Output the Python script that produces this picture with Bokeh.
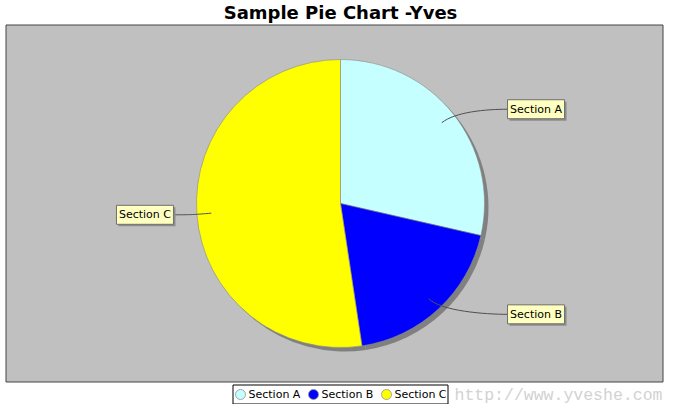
import numpy as np
from bokeh.plotting import figure
from bokeh.models import Range1d
from bokeh.embed import file_html
from bokeh.resources import INLINE
from bokeh.core.properties import value

# ---- data ----
categories = ["Section A", "Section B", "Section C"]
values = [30, 20, 55]
colors = ["#C6FFFF", "#0000FF", "#FFFF00"]
title_text = "Sample Pie Chart -Yves"
watermark_text = "http://www.yveshe.com"

W, H = 664, 404
p = figure(width=W, height=H, x_range=Range1d(0, W), y_range=Range1d(0, H),
           output_backend="svg", toolbar_location=None, min_border=0,
           x_axis_location=None, y_axis_location=None)
p.grid.visible = False
p.outline_line_color = None
p.background_fill_color = "white"
p.border_fill_color = "white"


def Y(y):
    return H - np.asarray(y, dtype=float)


FONT = value("DejaVu Sans")

# plot area
p.quad(left=5.5, right=662.5, top=Y(24.5), bottom=Y(381.5),
       fill_color="#C0C0C0", line_color="#444444", line_width=1)

# title
p.text(x=[340], y=Y([12]), text=[title_text], text_font=FONT,
       text_font_style="bold", text_font_size="18px", text_align="center",
       text_baseline="middle", text_color="black")

# pie geometry
cx, cy, R = 340.0, float(Y(203)), 144.0
vals = np.array(values, dtype=float)
ang = vals / vals.sum() * 2 * np.pi
ends = np.pi / 2 - np.cumsum(ang)
starts = ends + ang
mid = (starts + ends) / 2

# shadow
p.wedge(x=cx + 4, y=cy - 4, radius=R, start_angle=ends, end_angle=starts,
        direction="anticlock", fill_color="#808080", line_color=None)
# slices
p.wedge(x=cx, y=cy, radius=R, start_angle=ends, end_angle=starts,
        direction="anticlock", fill_color=colors, line_color="#8A8A8A",
        line_width=0.6)

# labels
side = np.where(np.cos(mid) >= 0, 1.0, -1.0)
gap = 1.16 * R
lab_y = cy + 1.05 * R * np.sin(mid)
anchor_x = cx + side * gap
x0 = cx + 0.9 * R * np.cos(mid)
y0 = cy + 0.9 * R * np.sin(mid)
c0x = cx + 1.02 * R * np.cos(mid)
c0y = cy + 1.02 * R * np.sin(mid)
c1x = anchor_x - side * 22
p.bezier(x0=x0, y0=y0, x1=anchor_x, y1=lab_y, cx0=c0x, cy0=c0y,
         cx1=c1x, cy1=lab_y, line_color="#505050", line_width=1)

bw, bh = 57.0, 19.0
left = np.where(side > 0, anchor_x, anchor_x - bw)
right = left + bw
p.quad(left=left + 2, right=right + 2, top=lab_y + bh / 2 - 2,
       bottom=lab_y - bh / 2 - 2, fill_color="#8C8C8C", line_color=None)
p.quad(left=left, right=right, top=lab_y + bh / 2, bottom=lab_y - bh / 2,
       fill_color="#FFFFC0", line_color="#6E6E6E", line_width=1)
p.text(x=(left + right) / 2, y=lab_y, text=categories,
       text_font=FONT, text_font_size="11px",
       text_align="center", text_baseline="middle", text_color="black")

# legend
lg_left, lg_right, lg_top, lg_bot = 232.5, 447.5, 384.5, 403.5
p.quad(left=lg_left, right=lg_right, top=Y(lg_top), bottom=Y(lg_bot),
       fill_color="white", line_color="black", line_width=1)
idx = np.arange(len(categories))
mx = 240.0 + 73.0 * idx
my = Y(np.full(len(categories), 394.0))
p.scatter(x=mx, y=my, size=10, marker="circle", fill_color=colors,
          line_color="#909090", line_width=0.8)
p.text(x=mx + 8, y=my, text=categories, text_font=FONT,
       text_font_size="11px", text_align="left", text_baseline="middle",
       text_color="black")

# watermark
p.text(x=[454], y=Y([395]), text=[watermark_text],
       text_font=value("Liberation Mono"), text_font_size="16.5px",
       text_align="left", text_baseline="middle", text_color="#D2D2D2")

open("out.html", "w").write(file_html(p, INLINE))
